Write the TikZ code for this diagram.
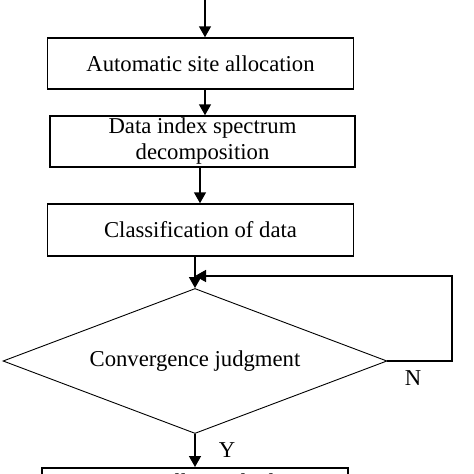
\documentclass[tikz,border=0pt]{standalone}
\usepackage{fontspec}
\setmainfont{Liberation Serif}
\usetikzlibrary{arrows.meta,shapes.geometric}
\tikzset{
  stepbox/.style={draw,line width=1.5pt,rectangle,inner sep=0pt,minimum width=306pt,minimum height=51pt,align=center,font=\fontsize{22.7}{26}\selectfont},
  judge/.style={draw,line width=0.9pt,diamond,inner sep=0pt,minimum width=384pt,minimum height=145pt,aspect=2.65,font=\fontsize{22.7}{26}\selectfont},
  flow/.style={line width=1.5pt,-{Triangle[length=11pt,width=12pt]}},
  lbl/.style={font=\fontsize{22.7}{26}\selectfont,inner sep=0pt}
}
\begin{document}
\begin{tikzpicture}[x=1pt,y=-1pt]
\useasboundingbox (0,0) rectangle (474,474);
\clip (0,0) rectangle (474,474);
\fill[white] (0,0) rectangle (474,474);
\coordinate (start) at (205,-2);
\node[stepbox] (b1) at (200.5,63.5) {Automatic site allocation};
\node[stepbox,minimum width=305pt] (b2) at (202.5,141.5) {Data index spectrum\\decomposition};
\node[stepbox,minimum height=52pt] (b3) at (200.5,230) {Classification of data};
\node[judge] (dia) at (195,361) {Convergence judgment};
\node[stepbox,text height=22pt,text depth=30pt,anchor=north] (b4) at (195,467) {Process all sample data};
\coordinate (nr) at (452,276);
\coordinate (fb) at (195,276);
\draw[flow] (start) -- (start |- b1.north);
\draw[flow] ([xshift=4.5pt]b1.south) -- ([xshift=2.5pt]b2.north);
\draw[flow] ([xshift=-2.5pt]b2.south) -- ([xshift=-0.5pt]b3.north);
\draw[flow] ([xshift=-5.5pt]b3.south) -- (dia.north);
\draw[flow] (dia.east) -| (nr) -- (fb);
\draw[flow] (dia.south) -- (b4.north);
\node[lbl] (n) at (413,378) {N};
\node[lbl] (y) at (227,450) {Y};
\end{tikzpicture}
\end{document}
